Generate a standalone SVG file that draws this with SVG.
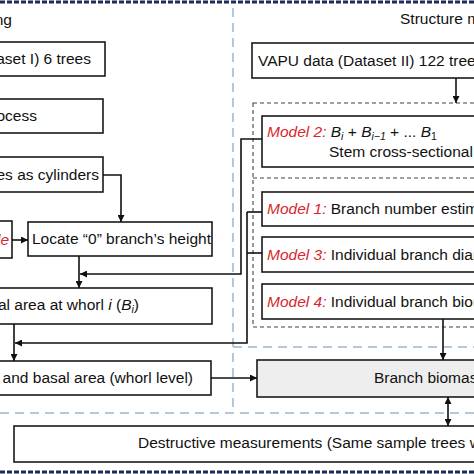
<svg xmlns="http://www.w3.org/2000/svg" width="474" height="474" viewBox="0 0 474 474">
<style>
text{font-family:"Liberation Sans",Arial,sans-serif;font-size:15.5px;fill:#111}
.box{fill:#fff;stroke:#1a1a1a;stroke-width:1.6}
.gray{fill:#eeeeee;stroke:#1a1a1a;stroke-width:1.6}
.red{fill:#d7262e;font-style:italic}
.it{font-style:italic}
.sub{font-size:10.5px}
.lb{fill:none;stroke:#b3c8dc;stroke-width:2;stroke-dasharray:9 6}
.nav{fill:none;stroke:#1c2b5a;stroke-width:3;stroke-dasharray:5 2}
.grp{fill:none;stroke:#444;stroke-width:1.1;stroke-dasharray:4 3}
.con{fill:none;stroke:#111;stroke-width:1.6}
</style>
<defs>
<marker id="ah" viewBox="0 0 10 10" refX="10" refY="5" markerWidth="7" markerHeight="7" orient="auto-start-reverse" markerUnits="userSpaceOnUse"><path d="M0,0 L10,5 L0,10 z" fill="#111"/></marker>
</defs>
<rect width="474" height="474" fill="#fff"/>
<g id="frame">
<line class="nav" x1="0" y1="2" x2="474" y2="2"/>
<line class="nav" x1="0" y1="472" x2="474" y2="472"/>
<line class="lb" x1="233" y1="8" x2="233" y2="413"/>
<line class="lb" x1="233" y1="347" x2="474" y2="347"/>
<line class="lb" x1="0" y1="413" x2="474" y2="413"/>
<rect class="grp" x="253" y="103" width="240" height="224"/>
<line class="grp" x1="253" y1="178" x2="474" y2="178"/>
</g>
<g id="titles">
<text x="12" y="25" text-anchor="end">Data processing</text>
<text x="400" y="24">Structure models</text>
</g>
<g id="n-dataset1"><rect class="box" x="-5" y="42" width="110" height="34"/><text x="91" y="64" text-anchor="end">TLS data (Dataset I) 6 trees</text></g>
<g id="n-process"><rect class="box" x="-5" y="99" width="108" height="34"/><text x="37" y="121" text-anchor="end">Pre-process</text></g>
<g id="n-cylinders"><rect class="box" x="-5" y="157" width="108" height="35"/><text x="99" y="180" text-anchor="end">Model branches as cylinders</text></g>
<g id="n-red"><rect class="box" x="-5" y="221" width="17" height="37"/><text class="red" x="9" y="245" text-anchor="end">Stem profile</text></g>
<g id="n-locate"><rect class="box" x="28" y="222" width="184" height="34"/><text x="32" y="244">Locate “0” branch’s height</text></g>
<g id="n-bi"><rect class="box" x="-5" y="288" width="217" height="36"/><text x="139" y="310" text-anchor="end">Stem cross-sectional area at whorl <tspan class="it">i</tspan> (<tspan class="it">B</tspan><tspan class="sub it" dy="3">i</tspan><tspan dy="-3">)</tspan></text></g>
<g id="n-basal"><rect class="box" x="-5" y="361" width="216" height="34"/><text x="193" y="383" text-anchor="end">Branch number and basal area (whorl level)</text></g>
<g id="n-vapu"><rect class="box" x="252" y="43" width="240" height="35"/><text x="258" y="66">VAPU data (Dataset II) 122 trees</text></g>
<g id="n-model2"><rect class="box" x="262" y="116" width="230" height="51"/>
<text x="267" y="137"><tspan class="red">Model 2:</tspan> <tspan class="it">B</tspan><tspan class="sub it" dy="3">i</tspan><tspan dy="-3"> + </tspan><tspan class="it">B</tspan><tspan class="sub it" dy="3">i−1</tspan><tspan dy="-3"> + ... </tspan><tspan class="it">B</tspan><tspan class="sub" dy="3">1</tspan></text>
<text x="329" y="157">Stem cross-sectional area</text></g>
<g id="n-model1"><rect class="box" x="262" y="192" width="230" height="34"/><text x="267" y="214"><tspan class="red">Model 1:</tspan> Branch number estimation</text></g>
<g id="n-model3"><rect class="box" x="262" y="237" width="230" height="35"/><text x="267" y="260"><tspan class="red">Model 3:</tspan> Individual branch diameter</text></g>
<g id="n-model4"><rect class="box" x="262" y="284" width="230" height="35"/><text x="267" y="307"><tspan class="red">Model 4:</tspan> Individual branch biomass</text></g>
<g id="n-biomass"><rect class="gray" x="257" y="360" width="240" height="37"/><text x="374" y="383">Branch biomass</text></g>
<g id="n-destructive"><rect class="box" x="14" y="426" width="480" height="36"/><text x="138" y="448">Destructive measurements (Same sample trees with Dataset I)</text></g>
<g id="connectors">
<path class="con" d="M103,175 H121 V222" marker-end="url(#ah)"/>
<path class="con" d="M12,240 H28" marker-end="url(#ah)"/>
<path class="con" d="M79,256 V288" marker-end="url(#ah)"/>
<path class="con" d="M262,139 H241 V274 H80" marker-end="url(#ah)"/>
<path class="con" d="M262,212 H247"/>
<path class="con" d="M262,253 H247"/>
<path class="con" d="M247,212 V343 H15" marker-end="url(#ah)"/>
<path class="con" d="M14,324 V361" marker-end="url(#ah)"/>
<path class="con" d="M211,378 H257" marker-end="url(#ah)"/>
<path class="con" d="M456,78 V103" marker-end="url(#ah)"/>
<path class="con" d="M443,319 V360" marker-end="url(#ah)"/>
<path class="con" d="M448,397 V426" marker-start="url(#ah)" marker-end="url(#ah)"/>
</g>
</svg>
